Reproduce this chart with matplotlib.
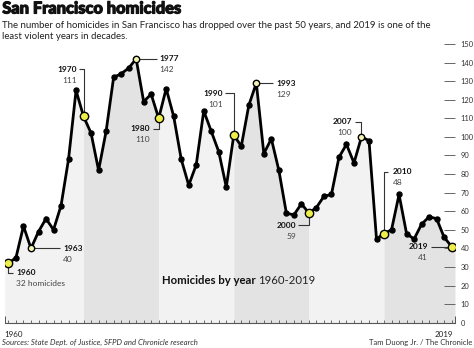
import numpy as np
import matplotlib
matplotlib.use("Agg")
import matplotlib.pyplot as plt
import matplotlib.patheffects as pe

# Homicides per year in San Francisco, 1960-2019
years = np.arange(1960, 2020)
homicides = [
    32, 35, 52, 40, 49, 56, 50, 63, 88, 125,
    111, 102, 82, 103, 132, 134, 137, 142, 119, 123,
    110, 126, 111, 88, 74, 85, 114, 103, 92, 73,
    101, 95, 117, 129, 91, 99, 82, 59, 58, 64,
    59, 62, 68, 69, 89, 96, 86, 100, 98, 45,
    48, 50, 69, 48, 45, 53, 57, 56, 46, 41,
]
y_ticks = list(range(0, 151, 10))

# called-out years
decade_years = [1960, 1970, 1980, 1990, 2000, 2010, 2019]
extra_years = [1963, 1977, 1993, 2007]
callout_text = {
    1960: "32 homicides", 1963: "40", 1970: "111", 1977: "142",
    1980: "110", 1990: "101", 1993: "129", 2000: "59",
    2007: "100", 2010: "48", 2019: "41",
}

# leader elbow in pixels: (up, sideways, gap to text)
leaders = {
    1960: (-9.3, 4.5, 3), 1963: (0, 29, 3), 1970: (47, -5, 2),
    1977: (0, 21, 2), 1980: (-10.5, -6, 3), 1990: (42, -8.5, 2),
    1993: (0, 17, 3), 2000: (-12, -11, 2), 2007: (15, -6.5, 3),
    2010: (61.6, 4, 5), 2019: (0, -20.7, 3),
}

FONT = "Lato"
W, H = 474, 348
fig = plt.figure(figsize=(W / 100, H / 100), dpi=100)
fig.patch.set_facecolor("white")

ax = fig.add_axes([4.7 / W, 1 - 322.7 / H, (455 - 4.7) / W, (322.7 - 44) / H])
x0, x1 = 1959.5, 2019.45
ax.set_xlim(x0, x1)
ax.set_ylim(0, 150)

# alternating decade shading under the line
light, dark = "#f2f2f2", "#e3e3e3"
for k in range(6):
    i0, i1 = 10 * k, min(10 * k + 10, len(years) - 1)
    xs = list(years[i0:i1 + 1])
    ys = list(homicides[i0:i1 + 1])
    if k == 0:
        xs = [x0] + xs
        ys = [ys[0]] + ys
    if k == 5:
        xs = xs + [x1]
        ys = ys + [ys[-1]]
    ax.fill_between(xs, ys, 0, color=light if k % 2 == 0 else dark,
                    lw=0, zorder=1)

ax.plot(years, homicides, color="black", lw=2.0, zorder=3,
        marker="o", markersize=3.6, solid_joinstyle="miter")

# spines and ticks
for s in ["top", "left", "right"]:
    ax.spines[s].set_visible(False)
ax.spines["bottom"].set_color("#555555")
ax.spines["bottom"].set_linewidth(0.8)
ax.set_xticks([x0, x1])
ax.set_xticklabels([])
ax.set_xticks(years, minor=True)
ax.tick_params(axis="x", which="major", direction="in", length=5,
               width=0.7, color="#555555")
ax.tick_params(axis="x", which="minor", direction="in", length=2.5,
               width=0.6, color="#555555")
ax.yaxis.tick_right()
ax.set_yticks(y_ticks)
ax.set_yticklabels([str(v) for v in y_ticks])
ax.tick_params(axis="y", direction="in", length=8, width=0.7,
               color="#666666", pad=4, labelsize=5.4, labelcolor="#333333")
for t in ax.get_yticklabels():
    t.set_fontfamily(FONT)

ax.text(0, -0.03, "1960", transform=ax.transAxes, ha="left", va="top",
        fontsize=5.8, family=FONT, color="#222222")
ax.text(0.9955, -0.03, "2019", transform=ax.transAxes, ha="right", va="top",
        fontsize=5.8, family=FONT, color="#222222")

# highlighted points
hv = dict(zip(years, homicides))
ax.plot(decade_years, [hv[y] for y in decade_years], "o", ms=6,
        mfc="#eeee4a", mec="black", mew=1.0, zorder=5)
ax.plot(extra_years, [hv[y] for y in extra_years], "o", ms=4.6,
        mfc="#f4f4b0", mec="black", mew=1.0, zorder=5)

# callouts with elbow leaders
to_px = ax.transData.transform
to_data = ax.transData.inverted().transform
for yr, (up, side, gap) in leaders.items():
    px, py = to_px((yr, hv[yr]))
    pts = to_data([(px, py), (px, py + up), (px + side, py + up)])
    ax.plot(pts[:, 0], pts[:, 1], color="#333333", lw=0.8, zorder=4,
            solid_capstyle="butt")
    ha = "left" if side > 0 else "right"
    tx = px + side + (gap if side > 0 else -gap)
    lab = to_data([(tx, py + up), (tx, py + up - 11)])
    ax.text(lab[0, 0], lab[0, 1], str(yr), ha=ha, va="center",
            fontsize=6, fontweight="bold", family=FONT, color="#111111",
            zorder=6)
    ax.text(lab[1, 0], lab[1, 1], callout_text[yr], ha=ha, va="center",
            fontsize=6, family=FONT, color="#444444", zorder=6)

# in-chart label: bold part then the year span
t1 = fig.text(162 / W, 1 - 284 / H, "Homicides by year", fontsize=8.2,
              fontweight="bold", family=FONT, color="#111111",
              va="baseline", ha="left")
fig.canvas.draw()
bb = t1.get_window_extent()
fig.text((bb.x1 + 2.5) / W, 1 - 284 / H, "1960-2019", fontsize=8.2,
         family=FONT, color="#222222", va="baseline", ha="left")

# header
fig.text(2.3 / W, 1 - 13.5 / H, "San Francisco homicides", fontsize=11.8,
         fontweight="black", family=FONT, color="#111111", va="baseline",
         path_effects=[pe.withStroke(linewidth=0.8, foreground="#111111")])
fig.text(2 / W, 1 - 27.7 / H,
         "The number of homicides in San Francisco has dropped over the "
         "past 50 years, and 2019 is one of the",
         fontsize=6.95, family=FONT, color="#222222", va="baseline")
fig.text(2 / W, 1 - 39.3 / H, "least violent years in decades.",
         fontsize=6.95, family=FONT, color="#222222", va="baseline")

# footer
fig.text(2 / W, 1 - 345.3 / H,
         "Sources: State Dept. of Justice, SFPD and Chronicle research",
         fontsize=5.6, style="italic", family=FONT, color="#333333",
         va="baseline")
fig.text(472 / W, 1 - 345.3 / H, "Tam Duong Jr. / The Chronicle",
         fontsize=5.5, family=FONT, color="#333333", va="baseline",
         ha="right")

fig.savefig("out.png", dpi=100)
